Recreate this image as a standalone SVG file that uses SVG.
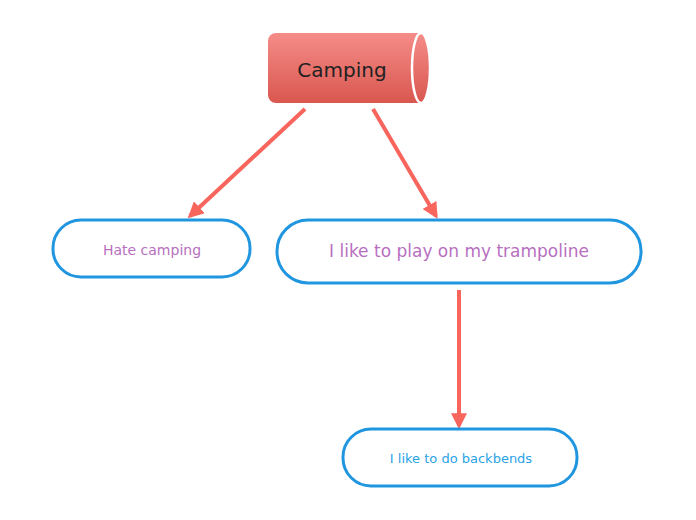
<svg xmlns="http://www.w3.org/2000/svg" width="696" height="520" viewBox="0 0 696 520">
<defs>
<linearGradient id="g" x1="0" y1="0" x2="0" y2="1"><stop offset="0" stop-color="#f58c88"/><stop offset="1" stop-color="#d9574f"/></linearGradient>
<marker id="a" viewBox="0 0 10 10" refX="8" refY="5" markerWidth="4" markerHeight="4" orient="auto"><path d="M0,0L10,5L0,10z" fill="#f7655d"/></marker>
<style>.c{stroke:#f7655d;stroke-width:4;fill:none;marker-end:url(#a)}.n{fill:#fff;stroke:#2196e0;stroke-width:3}.t{font-family:"Comic Sans MS","DejaVu Sans",cursive;text-anchor:middle}</style>
</defs>
<g id="connectors">
<line class="c" x1="305" y1="109" x2="190" y2="216"/>
<line class="c" x1="373" y1="109" x2="436" y2="216"/>
<line class="c" x1="459" y1="290" x2="459" y2="426"/>
</g>
<g id="camping">
<path d="M276,33H421A9,35 0 0 1 421,103H276A8,8 0 0 1 268,95V41A8,8 0 0 1 276,33Z" fill="url(#g)"/>
<ellipse cx="421" cy="68" rx="9" ry="35" fill="url(#g)" stroke="#fff" stroke-width="2.5"/>
<text class="t" x="342" y="77" font-size="20" fill="#222">Camping</text>
</g>
<g id="hate">
<rect class="n" x="53" y="220" width="197" height="57" rx="28"/>
<text class="t" x="152" y="255" font-size="14" fill="#b86fc0">Hate camping</text>
</g>
<g id="trampoline">
<rect class="n" x="277" y="220" width="364" height="63" rx="31"/>
<text class="t" x="459" y="257" font-size="17" fill="#b86fc0">I like to play on my trampoline</text>
</g>
<g id="backbends">
<rect class="n" x="343" y="429" width="234" height="57" rx="28"/>
<text class="t" x="461" y="463" font-size="13" fill="#2aa3e6">I like to do backbends</text>
</g>
</svg>
